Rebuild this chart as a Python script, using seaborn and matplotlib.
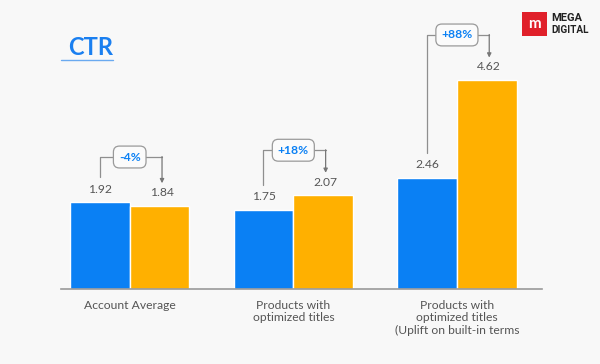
import pandas as pd
import matplotlib.pyplot as plt
import matplotlib.patches as mpatches
from matplotlib.lines import Line2D
import seaborn as sns

#data
categories = ["Account Average",
              "Products with\noptimized titles",
              "Products with\noptimized titles\n(Uplift on built-in terms"]
before = [1.92, 1.75, 2.46]
after = [1.84, 2.07, 4.62]
uplift = ["-4%", "+18%", "+88%"]
series = ["Before", "After"]

BLUE = "#0a80f4"
ORANGE = "#ffb000"
GRAY = "#555555"
BG = "#f8f8f8"

df = pd.DataFrame({
    "category": categories * 2,
    "series": [series[0]] * 3 + [series[1]] * 3,
    "ctr": before + after,
})

sns.set_style("white")
plt.rcParams['font.family'] = ['Lato', 'DejaVu Sans']

fig = plt.figure(figsize=(6, 3.64), dpi=100, facecolor=BG)
ax = fig.add_axes([61 / 600, 75 / 364, 481 / 600, 269 / 364])
ax.set_facecolor(BG)

width = 0.73
sns.barplot(data=df, x="category", y="ctr", hue="series", order=categories,
            hue_order=series, palette=[BLUE, ORANGE], width=width, gap=0,
            saturation=1, legend=False, ax=ax)

ax.set_xlim(-0.42, 2.52)
ax.set_ylim(0, 269 / 45.2)
ax.set_xlabel("")
ax.set_ylabel("")
ax.set_yticks([])
for s in ["top", "right", "left"]:
    ax.spines[s].set_visible(False)
ax.spines["bottom"].set_color("#9a9a9a")
ax.spines["bottom"].set_linewidth(1.2)
ax.tick_params(axis="x", length=0, pad=8)
for lab in ax.get_xticklabels():
    lab.set_fontsize(8.7)
    lab.set_color(GRAY)
    lab.set_linespacing(1.15)
    lab.set_verticalalignment("top")

off = width / 4
for i in range(len(categories)):
    b, a = before[i], after[i]
    xl, xr = i - off, i + off + 0.015
    ax.text(xl, b + 0.17, f"{b:.2f}", ha="center", va="bottom", fontsize=8.7, color=GRAY)
    ax.text(xr, a + 0.17, f"{a:.2f}", ha="center", va="bottom", fontsize=8.7, color=GRAY)
    yb = max(a, b) + 1.0
    ax.plot([xl, xl, xr], [b + 0.55, yb, yb], color="#8f8f8f", lw=0.9, zorder=3)
    ax.annotate("", xy=(xr, a + 0.5), xytext=(xr, yb + 0.01),
                arrowprops=dict(arrowstyle="-|>", color="#777777", lw=0.9,
                                mutation_scale=6, shrinkA=0, shrinkB=0), zorder=3)
    ax.text(i, yb, uplift[i], ha="center", va="center", fontsize=8.7,
            fontweight="bold", color=BLUE, zorder=5,
            bbox=dict(boxstyle="round,pad=0.45,rounding_size=0.5", fc="#fbfbfb",
                      ec="#9a9a9a", lw=0.9))

#title with underline
fig.text(68 / 600, 1 - 55 / 364, "CTR", fontsize=17, fontweight="bold",
         color="#1a7ff0", va="baseline", ha="left")
fig.add_artist(Line2D([61 / 600, 113 / 600], [1 - 59.5 / 364] * 2,
                      color="#6aaaf0", lw=1))

#logo
fig.add_artist(mpatches.Rectangle((522 / 600, 1 - 36 / 364), 25 / 600, 24.5 / 364,
                                  facecolor="#e0202a", edgecolor="none"))
fig.text(534.5 / 600, 1 - 24 / 364, "m", fontsize=11, fontweight="bold",
         color="white", ha="center", va="center")
fig.text(551 / 600, 1 - 18 / 364, "MEGA", fontsize=8, fontweight="bold",
         color="#222222", ha="left", va="center", family="Roboto")
fig.text(551 / 600, 1 - 30 / 364, "DIGITAL", fontsize=7.2, fontweight="bold",
         color="#222222", ha="left", va="center", family="Roboto")

fig.savefig("out.png", dpi=100, facecolor=BG)
